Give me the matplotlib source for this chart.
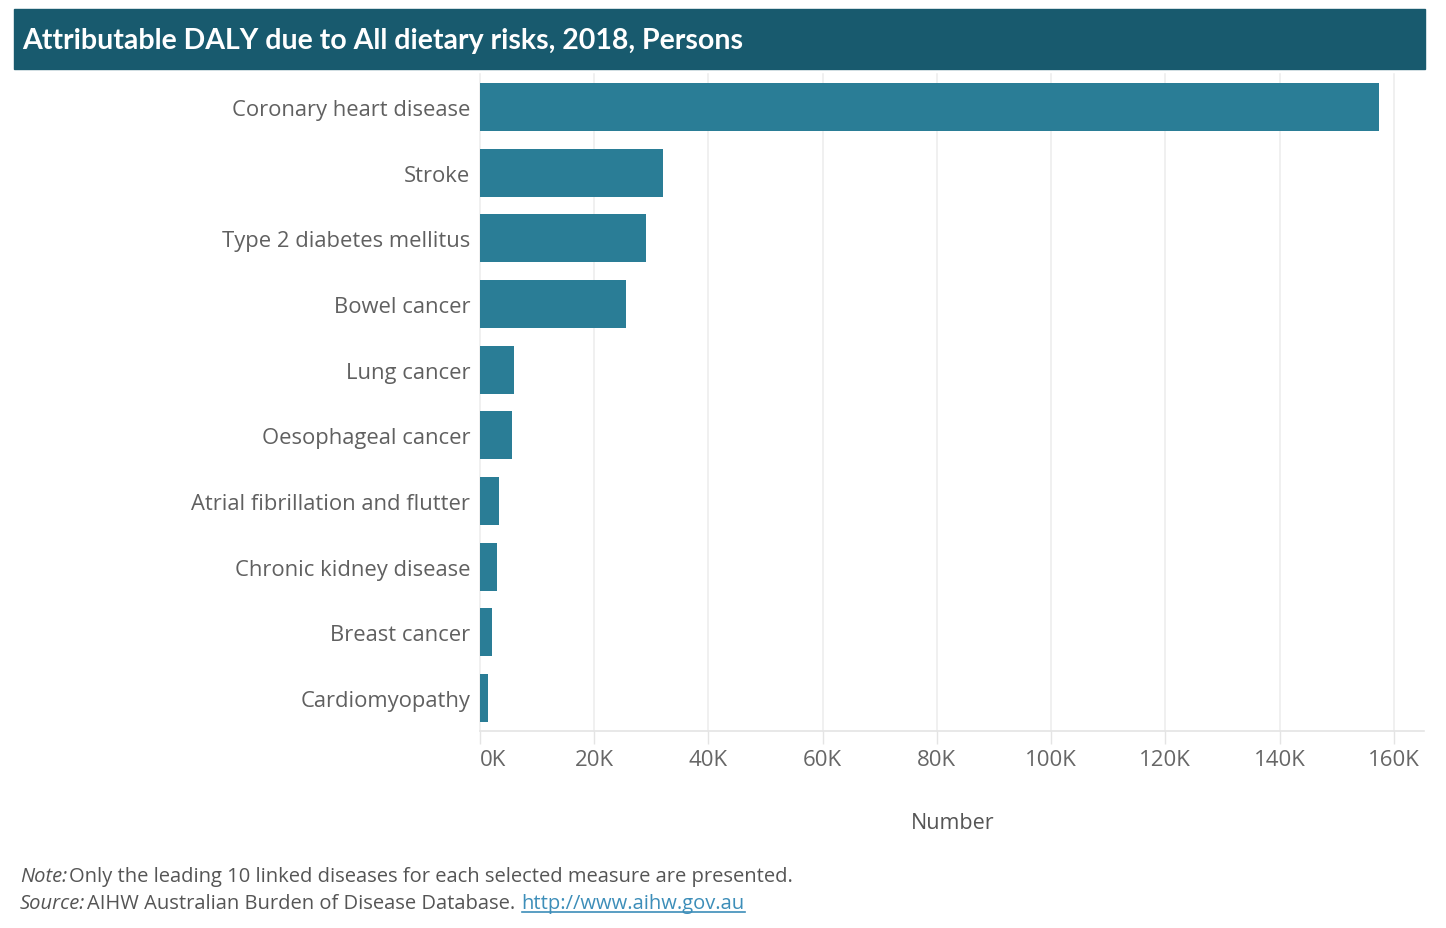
import matplotlib.pyplot as plt
from matplotlib.patches import Rectangle
import numpy as np

# data
diseases = ['Coronary heart disease', 'Stroke', 'Type 2 diabetes mellitus',
            'Bowel cancer', 'Lung cancer', 'Oesophageal cancer',
            'Atrial fibrillation and flutter', 'Chronic kidney disease',
            'Breast cancer', 'Cardiomyopathy']
daly = [157500, 32000, 29000, 25600, 5900, 5600, 3300, 3000, 2100, 1400]
ticks = [0, 20000, 40000, 60000, 80000, 100000, 120000, 140000, 160000]
tick_labels = ['0K', '20K', '40K', '60K', '80K', '100K', '120K', '140K', '160K']

W, H = 1446, 929
bar_col = '#2a7d96'
head_col = '#185a6e'
txt_col = '#555555'
font = 'Open Sans'

fig = plt.figure(figsize=(W / 100, H / 100), dpi=100)

# title banner
fig.patches.append(Rectangle((14 / W, 1 - 70 / H), (1425 - 14) / W, 60 / H,
                             transform=fig.transFigure, color=head_col, zorder=0))
fig.text(22 / W, 1 - 41 / H, 'Attributable DALY due to All dietary risks, 2018, Persons',
         color='white', fontsize=20.5, fontweight='bold', family='Lato',
         va='center', ha='left')

ax = fig.add_axes([480 / W, 1 - 732 / H, (1424 - 480) / W, (732 - 75) / H])
y = np.arange(len(diseases))
ax.barh(y, daly, height=0.73, color=bar_col, zorder=3)
ax.set_ylim(len(diseases) - 0.5, -0.5)
ax.set_xlim(0, 165300)

for t in ticks:
    ax.axvline(t, color='#eeeeee', lw=1.2, zorder=1, clip_on=False)

ax.set_yticks(y)
ax.set_yticklabels(diseases, fontsize=15.8, color='#606060', family=font)
ax.tick_params(axis='y', length=0, pad=7)
ax.set_xticks(ticks)
ax.set_xticklabels(tick_labels, fontsize=16, color='#666666', family=font)
ax.tick_params(axis='x', length=9, color='#e4e4e4', width=1, pad=4)
ax.get_xticklabels()[0].set_ha('left')

for s in ['top', 'right', 'left']:
    ax.spines[s].set_visible(False)
ax.spines['bottom'].set_color('#e4e4e4')
ax.spines['bottom'].set_linewidth(1.2)
ax.set_facecolor('white')

fig.text(953 / W, 1 - 824 / H, 'Number', fontsize=15.5, color=txt_col, family=font,
         ha='center', va='center')

# footer notes
fs = 14.5
n1 = fig.text(20 / W, 1 - 877 / H, 'Note:', fontsize=fs, style='italic', color=txt_col,
              family=font, va='center')
fig.canvas.draw()
r = fig.canvas.get_renderer()
bb = n1.get_window_extent(r)
fig.text((bb.x1 + 2) / W, 1 - 877 / H,
         'Only the leading 10 linked diseases for each selected measure are presented.',
         fontsize=fs, color=txt_col, family=font, va='center')
s1 = fig.text(20 / W, 1 - 904 / H, 'Source:', fontsize=fs, style='italic', color=txt_col,
              family=font, va='center')
bb = s1.get_window_extent(r)
s2 = fig.text((bb.x1 + 2) / W, 1 - 904 / H, 'AIHW Australian Burden of Disease Database.',
              fontsize=fs, color=txt_col, family=font, va='center')
bb = s2.get_window_extent(r)
s3 = fig.text((bb.x1 + 6) / W, 1 - 904 / H, 'http://www.aihw.gov.au',
              fontsize=fs, color='#3d8eb9', family=font, va='center')
bb = s3.get_window_extent(r)
fig.add_artist(plt.Line2D([bb.x0 / W, bb.x1 / W], [(bb.y0 + 1) / H, (bb.y0 + 1) / H],
                          color='#3d8eb9', lw=1.2, transform=fig.transFigure))

fig.savefig('out.png', dpi=100, facecolor='white')
